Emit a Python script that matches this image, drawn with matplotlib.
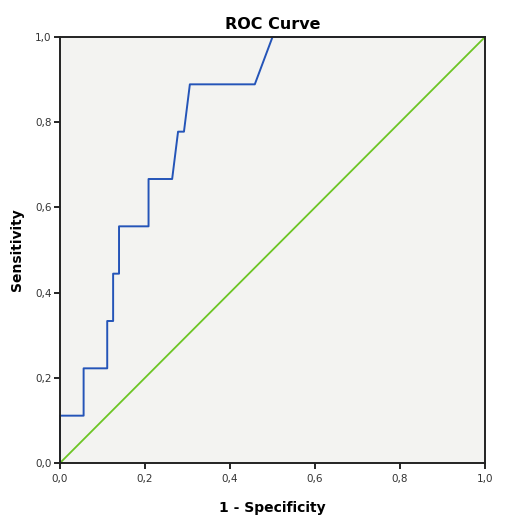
import matplotlib
matplotlib.use("Agg")
import matplotlib.pyplot as plt

# ROC-Kurve
fpr = [0.0, 0.0, 4/72, 4/72, 8/72, 8/72, 9/72, 9/72, 10/72, 10/72, 15/72, 15/72,
       19/72, 20/72, 21/72, 22/72, 33/72, 36/72, 1.0]
tpr = [0.0, 1/9, 1/9, 2/9, 2/9, 3/9, 3/9, 4/9, 4/9, 5/9, 5/9, 6/9,
       6/9, 7/9, 7/9, 8/9, 8/9, 1.0, 1.0]
ref_x = [0.0, 1.0]
ref_y = [0.0, 1.0]
ticks = [0.0, 0.2, 0.4, 0.6, 0.8, 1.0]
tick_labels = ["0,0", "0,2", "0,4", "0,6", "0,8", "1,0"]

fig = plt.figure(figsize=(5.06, 5.22), dpi=100)
ax = fig.add_axes([60/506, 59/522, 425/506, 426/522])
ax.set_facecolor("#f3f3f1")

ax.plot(ref_x, ref_y, color="#6cc524", lw=1.3)
ax.plot(fpr, tpr, color="#2454b8", lw=1.4, clip_on=False)

ax.set_xlim(0, 1)
ax.set_ylim(0, 1)
ax.set_xticks(ticks)
ax.set_xticklabels(tick_labels)
ax.set_yticks(ticks)
ax.set_yticklabels(tick_labels)
ax.tick_params(direction="out", length=4, width=1.2, labelsize=7.5,
               labelcolor="#333333", pad=2)
ax.tick_params(axis="x", pad=4)
for s in ax.spines.values():
    s.set_linewidth(1.4)
    s.set_color("#222222")

ax.set_title("ROC Curve", fontsize=11.5, fontweight="bold", pad=6)
ax.set_xlabel("1 - Specificity", fontsize=10, fontweight="bold", labelpad=12)
ax.set_ylabel("Sensitivity", fontsize=10, fontweight="bold", labelpad=8)

fig.savefig("out.png", dpi=100)
